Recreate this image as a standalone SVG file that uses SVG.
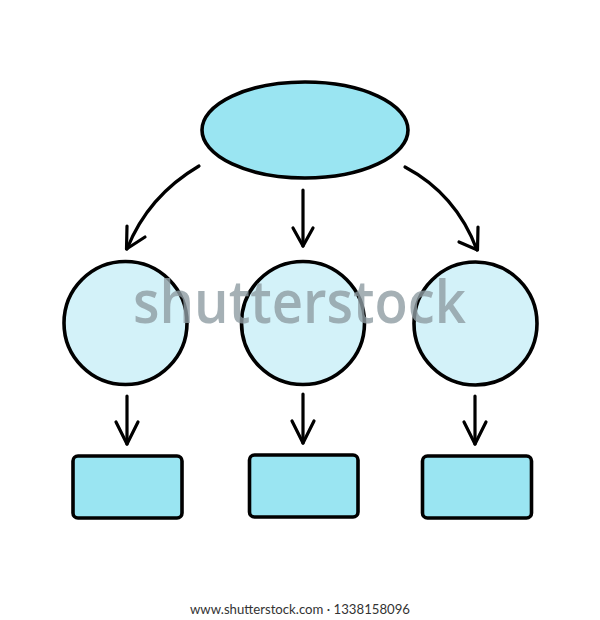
<svg xmlns="http://www.w3.org/2000/svg" width="600" height="620" viewBox="0 0 600 620">
<style>
.ln{fill:none;stroke:#000;stroke-width:3.2;stroke-linecap:round;stroke-linejoin:round}
.dark{fill:#9ae5f2;stroke:#000;stroke-width:3.6}
.light{fill:#d3f2f9;stroke:#000;stroke-width:3.6}
</style>
<rect width="600" height="620" fill="#fff"/>
<g id="top"><ellipse cx="305" cy="130" rx="103" ry="48" class="dark"/></g>
<g id="circle1"><circle cx="125.5" cy="323" r="61.5" class="light"/></g>
<g id="circle2"><circle cx="303" cy="323" r="61.5" class="light"/></g>
<g id="circle3"><circle cx="475.5" cy="323.5" r="61.5" class="light"/></g>
<g id="box1"><rect x="73" y="456" width="109" height="62" rx="5" class="dark"/></g>
<g id="box2"><rect x="249.5" y="455" width="108.5" height="62" rx="5" class="dark"/></g>
<g id="box3"><rect x="422.5" y="456" width="109" height="62" rx="5" class="dark"/></g>
<g id="connectors">
<path class="ln" d="M199 166 Q148 196 127 249"/>
<path class="ln" d="M127 226 L126.5 249 L145 237"/>
<path class="ln" d="M303 190 L303 246"/>
<path class="ln" d="M293 228 L303 246 L313 228"/>
<path class="ln" d="M405 167 Q456 194 477 250"/>
<path class="ln" d="M478 227 L477.5 250 L459 242"/>
<path class="ln" d="M127 396 L127 444"/>
<path class="ln" d="M116 422 L127 444 L138 422"/>
<path class="ln" d="M303 394 L303 443"/>
<path class="ln" d="M292 421 L303 443 L314 421"/>
<path class="ln" d="M475 396 L475 444"/>
<path class="ln" d="M464 422 L475 444 L486 422"/>
</g>
<text x="133" y="323" font-family="'Open Sans', sans-serif" font-weight="600" font-size="60" fill="#8f9ca3" fill-opacity="0.8" textLength="333" lengthAdjust="spacingAndGlyphs">shutterstock</text>
<text x="190" y="614" font-family="Lato, sans-serif" font-size="13" fill="#333" textLength="220" lengthAdjust="spacingAndGlyphs">www.shutterstock.com · 1338158096</text>
</svg>
